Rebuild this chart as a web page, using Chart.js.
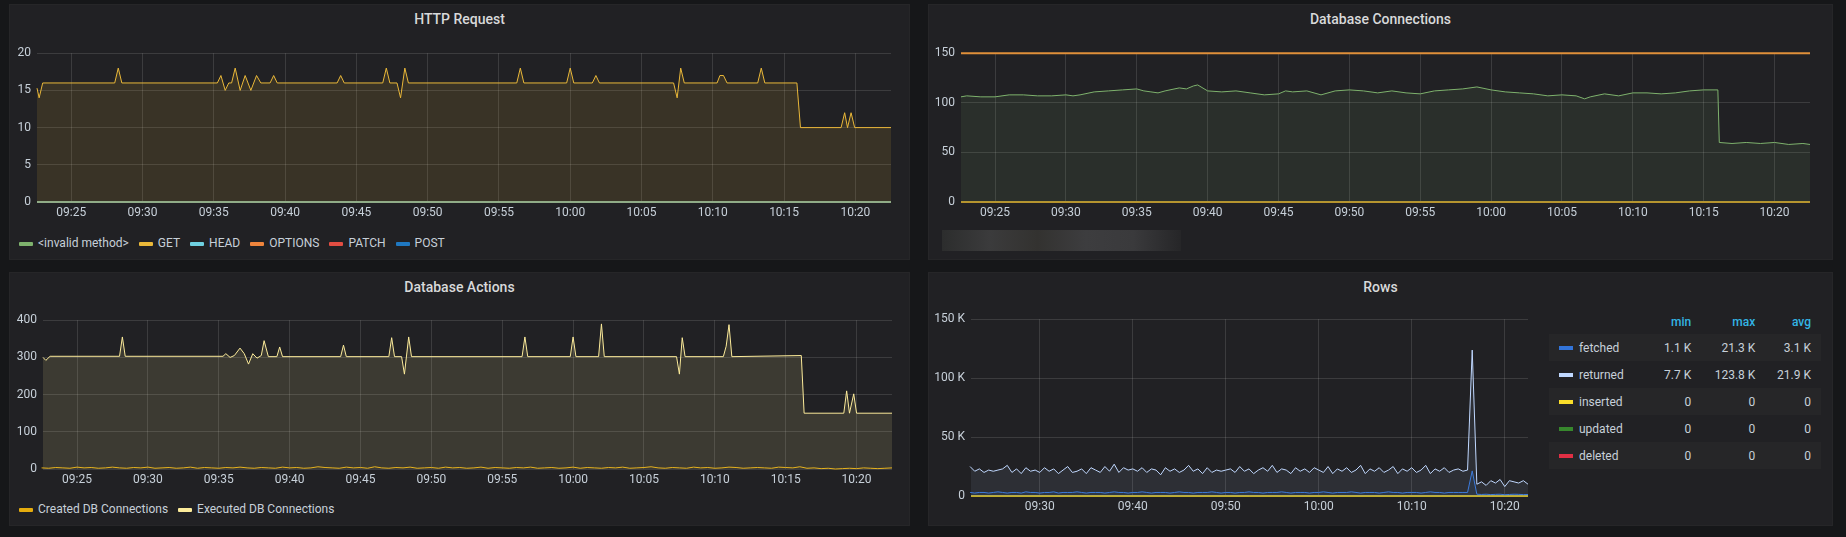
<!DOCTYPE html>
<html>
<head>
<meta charset="utf-8">
<script src="https://cdn.jsdelivr.net/npm/chart.js@4"></script>
<style>
  body { margin: 0; background: #161719; width: 1846px; height: 537px; overflow: hidden; font-family: Roboto, sans-serif; color: #d8d9da; }
  .panel { position: absolute; background: #212124; border: 1px solid #262628; box-sizing: border-box; }
  .title { position: absolute; left: 0; right: 0; top: 6px; text-align: center; font-size: 14px; font-weight: 500; color: #d8d9da; }
  .box { position: absolute; }
  .legend { position: absolute; font-size: 12px; color: #c7d0d9; display: flex; gap: 10px; }
  .legend span i { display: inline-block; width: 14px; height: 4px; border-radius: 1px; margin-right: 5px; vertical-align: middle; }
  table.rows { position: absolute; left: 1549px; top: 310px; width: 272px; border-collapse: collapse; font-size: 12px; color: #c7d0d9; }
  table.rows th { color: #33b5e5; font-weight: 500; text-align: right; height: 22px; padding-right: 10px; }
  table.rows td { height: 25px; text-align: right; padding-right: 10px; }
  table.rows td.n { text-align: left; padding-left: 10px; }
  table.rows tr.alt td { background: #262628; }
  table.rows td i { display: inline-block; width: 14px; height: 4px; margin-right: 6px; vertical-align: middle; }
</style>
</head>
<body>
<div class="panel" style="left:9px;top:4px;width:901px;height:256px"><div class="title">HTTP Request</div></div>
<div class="panel" style="left:928px;top:4px;width:905px;height:256px"><div class="title">Database Connections</div></div>
<div class="panel" style="left:9px;top:272px;width:901px;height:254px"><div class="title">Database Actions</div></div>
<div class="panel" style="left:928px;top:272px;width:905px;height:254px"><div class="title">Rows</div></div>

<div class="box" style="left:9px;top:40px;width:901px;height:184px"><canvas id="httpChart"></canvas></div>
<div class="box" style="left:928px;top:40px;width:905px;height:184px"><canvas id="connChart"></canvas></div>
<div class="box" style="left:9px;top:307px;width:901px;height:184px"><canvas id="actChart"></canvas></div>
<div class="box" style="left:928px;top:306px;width:600px;height:212px"><canvas id="rowsChart"></canvas></div>

<div class="legend" style="left:19px;top:236px">
  <span><i style="background:#7EB26D"></i>&lt;invalid method&gt;</span>
  <span><i style="background:#EAB839"></i>GET</span>
  <span><i style="background:#6ED0E0"></i>HEAD</span>
  <span><i style="background:#EF843C"></i>OPTIONS</span>
  <span><i style="background:#E24D42"></i>PATCH</span>
  <span><i style="background:#1F78C1"></i>POST</span>
</div>
<div style="position:absolute;left:942px;top:230px;width:239px;height:21px;background:linear-gradient(90deg,#2c2d2d,#3b3b3c 20%,#333230 40%,#3d3d3f 60%,#3a3a3c 80%,#262628)"></div>
<div class="legend" style="left:19px;top:502px">
  <span><i style="background:#E5AC0E"></i>Created DB Connections</span>
  <span><i style="background:#FCEB9A"></i>Executed DB Connections</span>
</div>
<table class="rows">
  <tr><th></th><th>min</th><th>max</th><th>avg</th></tr>
  <tr class="alt"><td class="n"><i style="background:#3274D9"></i>fetched</td><td>1.1 K</td><td>21.3 K</td><td>3.1 K</td></tr>
  <tr><td class="n"><i style="background:#C0D8FF"></i>returned</td><td>7.7 K</td><td>123.8 K</td><td>21.9 K</td></tr>
  <tr class="alt"><td class="n"><i style="background:#FADE2A"></i>inserted</td><td>0</td><td>0</td><td>0</td></tr>
  <tr><td class="n"><i style="background:#37872D"></i>updated</td><td>0</td><td>0</td><td>0</td></tr>
  <tr class="alt"><td class="n"><i style="background:#E02F44"></i>deleted</td><td>0</td><td>0</td><td>0</td></tr>
</table>

<script>
// time in minutes after 09:00
const xMin = 22.6, xMax = 82.5;

// HTTP Request: GET breakpoints
const getTimes = [22.6,22.75,23.0,28.05,28.3,28.55,35.25,35.5,35.8,36.05,36.25,36.5,36.85,37.2,37.6,38.0,38.3,38.95,39.2,39.45,43.65,43.9,44.15,46.85,47.1,47.35,47.85,48.1,48.4,48.65,56.25,56.5,56.75,59.75,60.0,60.25,61.55,61.8,62.05,67.25,67.5,67.75,68.0,70.3,70.5,70.75,71.0,73.15,73.4,73.65,75.9,76.15,79.0,79.25,79.45,79.7,79.95,82.5];
const getValues = [15.3,14,16,16,18,16,16,17,15,16,16,18,15,17,15,17,16,16,17,16,16,17,16,16,18,16,16,14,18,16,16,18,16,16,18,16,16,17,16,16,14,18,16,16,17,17,16,16,18,16,16,10,10,12,10,12,10,10];

// Database Connections
const connTimes = [22.6,23,24,25,26,27,28,29,30,30.5,31,32,33,34,35,35.5,36,36.5,37,38,38.5,39,39.3,40,41,42,43,44,45,45.5,46,47,48,49,50,51,52,53,54,55,56,57,58,59,60,61,62,63,64,65,66,66.6,67,68,69,70,71,72,73,74,75,76,76.1,77,78,79,80,81,82,82.5];
const connValues = [106,107,106,106,108,108,107,107,108,107,108,111,112,113,114,112,111,110,112,115,114,117,118,112,111,112,110,108,109,112,111,112,108,112,113,112,110,112,110,109,112,113,114,116,113,111,110,109,107,108,107,104,106,109,107,110,110,109,110,112,113,113,60,59,60,59,60,58,59,58];
const connMax = 150;

// Database Actions: executed breakpoints
const execTimes = [22.6,22.8,23.1,28.0,28.2,28.4,35.3,35.5,35.8,36.1,36.5,36.8,37.1,37.4,37.7,38.0,38.2,38.5,39.1,39.3,39.5,43.6,43.8,44.0,47.0,47.2,47.4,47.9,48.1,48.4,48.6,56.4,56.6,56.8,59.8,60.0,60.2,61.8,62.0,62.2,67.3,67.5,67.7,67.9,70.6,70.8,71.0,71.2,76.1,76.3,79.1,79.3,79.5,79.8,80.0,82.5];
const execValues = [300,292,303,303,355,303,303,310,300,305,325,310,282,310,298,305,345,302,302,328,302,302,333,302,302,353,302,302,255,355,302,302,355,302,302,355,302,302,390,302,302,255,353,302,302,330,388,302,305,150,150,210,150,202,150,150];
// created, every 30 s from 22.5
const createdValues = [3,2,4,3,2,5,3,4,2,3,5,3,2,4,3,5,2,3,4,2,3,5,2,4,3,2,4,3,5,3,2,4,3,2,5,3,4,2,3,6,4,3,2,5,3,4,2,6,3,2,4,3,5,2,3,4,2,5,3,4,2,3,5,2,4,3,2,4,3,5,2,3,4,2,3,5,2,4,3,2,4,3,5,2,3,4,6,3,2,4,3,2,5,3,4,2,3,5,4,2,3,4,3,2,5,4,3,6,2,3,1,2,0,1,2,1,3,2,1,2,3];

// Rows (K), every 30 s from 22.5
const returnedValues = [25,21,23,20,22,21,22,23,26,20,23,19,24,21,22,
  20,24,21,23,19,22,25,20,21,23,19,24,22,20,25,21,27,20,24,22,
  23,21,24,20,23,22,18,24,21,23,20,22,26,21,23,19,24,20,22,21,
  22,23,20,25,21,23,19,22,24,21,26,20,23,22,19,24,21,23,20,24,
  22,20,25,19,23,21,24,20,22,26,19,23,21,24,20,22,25,19,23,21,
  24,20,22,26,19,23,21,24,20,22,23,21,
  22,123.8,10,12,9,13,11,14,8,13,12,11,13,10];
const fetchedValues = [3,2.5,3,3,2.5,3,3.5,3,2.5,3,3,2.5,3.5,3,3,
  2.5,3,3,3.5,2.5,3,3,3,3.5,3,2.5,3,3,3,2.5,3,3.5,3,3,2.5,
  3,3,3.5,3,2.5,3,3,3,2.5,3,3.5,3,3,2.5,3,3,3,3.5,3,2.5,
  3,3,2.5,3,3,3.5,3,3,2.5,3,3,3,3.5,3,2.5,3,3,3,2.5,3,
  3,3.5,3,2.5,3,3,3,3.5,3,2.5,3,3,3,2.5,3,3.5,3,3,2.5,3,
  3,3,2.5,3,3.5,3,3,2.5,3,3,3,3,
  3,21.3,1.5,1.3,1.5,1.2,1.4,1.5,1.1,1.3,1.5,1.4,1.2,1.3];

const halfMinuteTimes = [];
for (let t = 22.5; t <= 82.5; t += 0.5) halfMinuteTimes.push(t);

const pts = (ts, vs, k) => ts.map((t, i) => ({ x: t, y: vs[i] * (k || 1) }));
const flat = (v) => [{ x: xMin, y: v }, { x: xMax, y: v }];

const fmtTime = (v) => {
  const h = 9 + Math.floor(v / 60), m = Math.round(v % 60);
  return String(h).padStart(2, "0") + ":" + String(m).padStart(2, "0");
};

function line(label, data, color, fill, width) {
  return {
    label, data, borderColor: color, borderWidth: width || 1, pointRadius: 0, tension: 0,
    fill: fill ? "origin" : false, backgroundColor: fill || color, clip: 3,
  };
}

function makeChart(id, datasets, o) {
  return new Chart(document.getElementById(id).getContext("2d"), {
    type: "line",
    data: { datasets },
    options: {
      responsive: true,
      maintainAspectRatio: false,
      animation: false,
      layout: { padding: { top: 9, right: o.padR, left: 0, bottom: 0 } },
      plugins: { legend: { display: false }, tooltip: { enabled: false } },
      scales: {
        x: {
          type: "linear", min: xMin, max: xMax,
          afterBuildTicks: (ax) => {
            const t = [];
            for (let v = Math.ceil(xMin / o.xStep) * o.xStep; v <= xMax; v += o.xStep) t.push({ value: v });
            ax.ticks = t;
          },
          ticks: { autoSkip: false, color: "#c7d0d9", font: { family: "Roboto", size: 12 }, maxRotation: 0, callback: fmtTime, padding: 4 },
          grid: { color: "rgba(255,255,255,0.12)", drawTicks: false },
          border: { display: false },
          afterFit: (ax) => { ax.height = 22; },
        },
        y: {
          min: 0, max: o.yMax,
          ticks: { stepSize: o.yStep, color: "#c7d0d9", font: { family: "Roboto", size: 12 }, padding: 6,
            callback: o.yFmt || ((v) => v) },
          grid: { color: "rgba(255,255,255,0.12)", drawTicks: false },
          border: { display: false },
          afterFit: (ax) => { ax.width = o.axisW; },
        },
      },
    },
  });
}

makeChart("httpChart", [
  line("<invalid method>", flat(0), "#7EB26D"),
  line("HEAD", flat(0), "#6ED0E0"),
  line("OPTIONS", flat(0), "#EF843C"),
  line("PATCH", flat(0), "#E24D42"),
  line("GET", pts(getTimes, getValues), "#EAB839", "rgba(234,184,57,0.12)"),
  line("POST", flat(0), "#8f96d9", null, 2),
], { yMax: 20, yStep: 5, xStep: 5, axisW: 28, padR: 19 });

makeChart("connChart", [
  line("connections", pts(connTimes, connValues), "#7EB26D", "rgba(126,178,109,0.1)"),
  line("max", flat(connMax), "#E0903A", null, 2),
  line("min", flat(0), "#B8932C", null, 2),
], { yMax: 150, yStep: 50, xStep: 5, axisW: 33, padR: 23 });

makeChart("actChart", [
  line("Executed DB Connections", pts(execTimes, execValues), "#FCEB9A", "rgba(252,235,154,0.12)"),
  line("Created DB Connections", pts(halfMinuteTimes, createdValues), "#E5AC0E"),
], { yMax: 400, yStep: 100, xStep: 5, axisW: 34, padR: 18 });

makeChart("rowsChart", [
  line("returned", pts(halfMinuteTimes, returnedValues, 1000), "#C0D8FF", "rgba(192,216,255,0.08)"),
  line("fetched", pts(halfMinuteTimes, fetchedValues, 1000), "#3274D9", "rgba(50,116,217,0.1)"),
  line("inserted", flat(0), "#FADE2A"),
  line("updated", flat(0), "#37872D"),
  line("deleted", flat(0), "#E0752D", null, 2),
], { yMax: 150000, yStep: 50000, xStep: 10, axisW: 43, padR: 0, yFmt: (v) => v === 0 ? "0" : (v / 1000) + " K" });
</script>
</body>
</html>
